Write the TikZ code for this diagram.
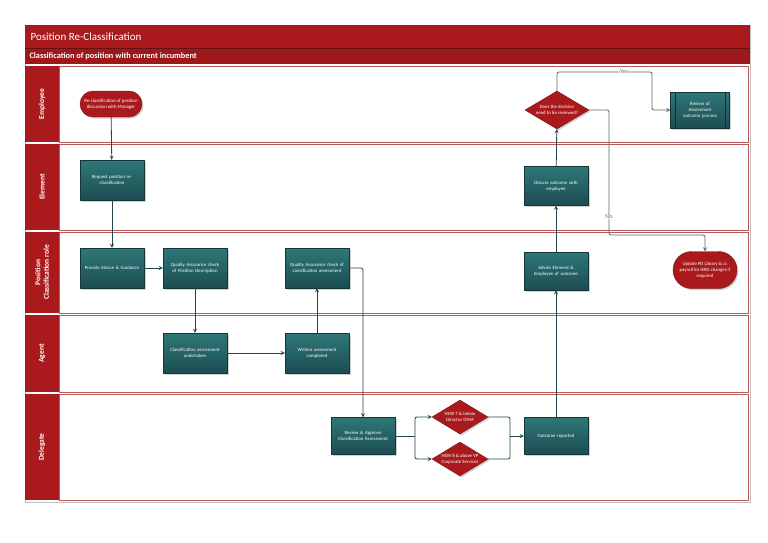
\documentclass[tikz,border=0pt]{standalone}
\usepackage{fontspec}
\setmainfont{Carlito}
\usetikzlibrary{positioning}
\usetikzlibrary{shapes.geometric}
\usetikzlibrary{shapes.misc}
\usetikzlibrary{shadows}
\usetikzlibrary{arrows}
\definecolor{laneRed}{HTML}{AA1A1D}
\definecolor{laneEdge}{HTML}{B85A5C}
\definecolor{boxTop}{HTML}{2F7778}
\definecolor{boxBot}{HTML}{1C4D52}
\definecolor{lineDark}{HTML}{21474C}

\begin{document}
\begin{tikzpicture}[x=1pt, y=-1pt,
      lane/.style ={draw=laneEdge, line width=0.9pt, fill=white},
      lanelabel/.style ={fill=laneRed, text=white, rotate=90, align=center, minimum height=34pt, inner sep=0pt, font=\bfseries\fontsize{7.5}{8.5}\selectfont},
      block/.style ={rectangle, draw=boxBot!70!black, top color=boxTop, bottom color=boxBot, text=white, align=center, text width=58pt, minimum width=64pt, minimum height=40pt, inner sep=2pt, font=\fontsize{4.8}{6}\selectfont, drop shadow={opacity=0.35, shadow xshift=1.5pt, shadow yshift=-1.5pt}},
      terminal/.style={rounded rectangle, draw=laneRed!70!black, fill=laneRed, text=white, align=center, inner sep=1pt, font=\fontsize{4.8}{6}\selectfont, drop shadow={opacity=0.35, shadow xshift=1.5pt, shadow yshift=-1.5pt}},
      decision/.style={diamond, aspect=1.65, draw=laneRed!70!black, fill=laneRed, text=white, align=center, inner sep=0pt, font=\fontsize{4.8}{6}\selectfont, drop shadow={opacity=0.35, shadow xshift=1.5pt, shadow yshift=-1.5pt}},
      flow/.style ={-stealth, thick, draw=lineDark, rounded corners=2pt},
      branch/.style ={-stealth, thick, draw=lineDark!80!white, rounded corners=2pt},
      tag/.style ={fill=white, text=gray!80!black, inner sep=0.5pt, font=\fontsize{6}{7}\selectfont}
    ]
    \useasboundingbox (0,0) rectangle (768,543);

    % frame and title
    \draw [gray!50, fill=white] (25,25) rectangle (750,502) ;
    \fill [laneRed] (25,25) rectangle (750,48) ;
    \fill [laneRed!92!black] (25,48) rectangle (750,64) ;
    \draw [laneRed!60!black, thin] (25,48) -- (750,48) ;
    \node [anchor=west, text=white, font=\fontsize{11}{12}\selectfont] (title) at (27,37) {Position Re-Classification} ;
    \node [anchor=west, text=white, font=\bfseries\fontsize{8.3}{9}\selectfont] (subtitle) at (26,56.5) {Classification of position with current incumbent} ;

    % swim lanes
    \draw [lane] (59,66) rectangle (748,142) ;
    \draw [lane] (59,144) rectangle (748,230) ;
    \draw [lane] (59,232) rectangle (748,313) ;
    \draw [lane] (59,315) rectangle (748,392) ;
    \draw [lane] (59,394) rectangle (748,500) ;
    \node [lanelabel, minimum width=76pt] (lEmployee) at (42,104) {Employee} ;
    \node [lanelabel, minimum width=86pt] (lElement) at (42,187) {Element} ;
    \node [lanelabel, minimum width=81pt] (lRole) at (42,272.5) {Position\\Classification role} ;
    \node [lanelabel, minimum width=77pt] (lAgent) at (42,353.5) {Agent} ;
    \node [lanelabel, minimum width=106pt] (lDelegate) at (42,447) {Delegate} ;

    % steps
    \node [terminal, minimum width=64pt, minimum height=26pt] (start) at (111,104) {Re-classification of position\\discussion with Manager} ;
    \node [block] (request) at (112,180) {Request position re-\\classification} ;
    \node [block] (advice) at (112,268) {Provide Advice \& Guidance} ;
    \node [block] (qaPD) at (195,268) {Quality Assurance check\\of Position Description} ;
    \node [block] (qaCA) at (317,268) {Quality Assurance check of\\classification assessment} ;
    \node [block] (assess) at (195,353) {Classification assessment\\undertaken} ;
    \node [block] (written) at (317,353) {Written assessment\\completed} ;
    \node [block, minimum height=37pt] (review) at (363,436) {Review \& Approve\\Classification Assessment} ;
    \node [decision, minimum width=56pt, minimum height=34pt] (hew7) at (460,417) {HEW 7 \& below\\Director OHM} ;
    \node [decision, minimum width=56pt, minimum height=34pt] (hew8) at (460,459) {HEW 8 \& above VP\\Corporate Services} ;
    \node [block, minimum height=37pt] (outcome) at (556,436) {Outcome reported} ;
    \node [block, minimum height=38pt] (advise) at (556,271) {Advise Element \&\\Employee of outcome} ;
    \node [block, minimum height=39pt] (discuss) at (556,186) {Discuss outcome with\\employee} ;
    \node [decision, aspect=1.7, minimum width=64pt, minimum height=38pt] (reviewQ) at (557,110) {Does the decision\\need to be reviewed?} ;
    \node [block, text width=44pt, minimum width=59pt, minimum height=36pt] (revProc) at (700,110) {Review of\\Assessment\\outcome process} ;
    \draw [boxBot!60!black] ([xshift=5pt]revProc.north west) -- ([xshift=5pt]revProc.south west) ;
    \draw [boxBot!60!black] ([xshift=-5pt]revProc.north east) -- ([xshift=-5pt]revProc.south east) ;
    \node [terminal, minimum width=66pt, minimum height=37pt] (update) at (705,270) {Update PD Library \& cc\\payroll for HRIS changes if\\required} ;

    % turning points
    \coordinate (split) at (415,436) ;
    \coordinate (join) at (510,436) ;
    \coordinate (yesTop) at (652,72) ;
    \coordinate (noTurn) at (609,235) ;

    % connectors
    \draw [flow] (start) -- (request) ;
    \draw [flow] (request) -- (advice) ;
    \draw [flow] (advice) -- (qaPD) ;
    \draw [flow] (qaPD) -- (assess) ;
    \draw [flow] (assess) -- (written) ;
    \draw [flow] (written) -- (qaCA) ;
    \draw [flow] (qaCA.east) -| (review.north) ;
    \draw [thick, draw=lineDark] (review.east) -- (split) ;
    \draw [flow] (split) |- (hew7.west) ;
    \draw [flow] (split) |- (hew8.west) ;
    \draw [thick, draw=lineDark, rounded corners=2pt] (hew7.east) -| (join) ;
    \draw [thick, draw=lineDark, rounded corners=2pt] (hew8.east) -| (join) ;
    \draw [flow] (join) -- (outcome.west) ;
    \draw [flow] (outcome) -- (advise) ;
    \draw [flow] (advise) -- (discuss) ;
    \draw [flow] (discuss) -- (reviewQ) ;
    \draw [branch] (reviewQ.north) |- (yesTop) |- (revProc.west) ;
    \draw [branch] (reviewQ.east) -| (noTurn) -| (update.north) ;
    \node [tag] (yes) at (624,72) {Yes} ;
    \node [tag] (no) at (609,217) {No} ;
  \end{tikzpicture}
\end{document}
